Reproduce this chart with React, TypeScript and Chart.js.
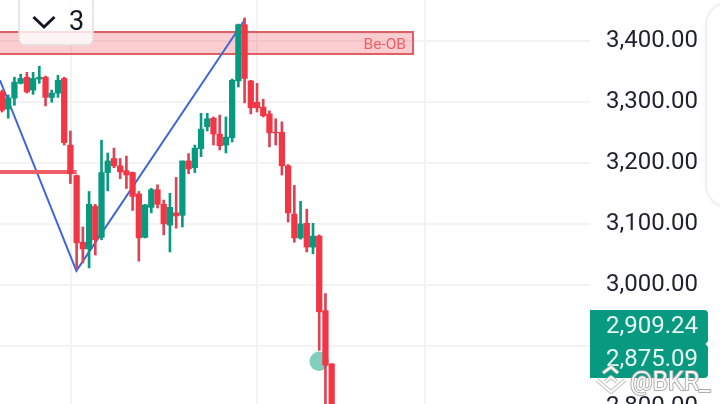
import { useEffect, useRef } from 'react';
import { Chart, registerables } from 'chart.js';

Chart.register(...registerables);

const opens = [3316, 3288, 3306, 3330, 3340, 3319, 3337, 3340, 3307, 3314, 3338, 3229, 3179, 3070, 3059, 3129, 3078, 3184, 3207, 3195, 3187, 3184, 3149, 3078, 3127, 3156, 3132, 3098, 3118, 3114, 3203, 3192, 3223, 3259, 3273, 3247, 3229, 3241, 3334, 3426, 3334, 3299, 3291, 3280, 3250, 3250, 3195, 3116, 3077, 3101, 3062, 3080, 2958, 2871];
const highs = [3319, 3311, 3340, 3345, 3348, 3348, 3358, 3342, 3319, 3343, 3340, 3252, 3180, 3095, 3153, 3132, 3237, 3216, 3224, 3207, 3211, 3185, 3153, 3132, 3158, 3164, 3139, 3150, 3176, 3203, 3215, 3229, 3281, 3281, 3275, 3278, 3275, 3337, 3427, 3437, 3335, 3330, 3304, 3285, 3272, 3267, 3197, 3163, 3137, 3124, 3101, 3082, 2986, 2871];
const lows = [3283, 3273, 3294, 3329, 3314, 3312, 3330, 3293, 3299, 3307, 3229, 3166, 3026, 3036, 3028, 3049, 3074, 3154, 3192, 3174, 3158, 3122, 3039, 3077, 3118, 3126, 3082, 3054, 3093, 3095, 3182, 3184, 3210, 3252, 3229, 3221, 3216, 3234, 3324, 3298, 3280, 3283, 3275, 3226, 3229, 3180, 3103, 3070, 3075, 3054, 3051, 2893, 2796, 2779];
const closes = [3286, 3306, 3332, 3338, 3316, 3338, 3340, 3307, 3314, 3335, 3233, 3182, 3069, 3059, 3132, 3074, 3184, 3203, 3195, 3185, 3180, 3145, 3077, 3131, 3156, 3132, 3100, 3127, 3113, 3203, 3190, 3224, 3255, 3272, 3247, 3228, 3242, 3335, 3426, 3338, 3290, 3290, 3277, 3249, 3249, 3195, 3118, 3077, 3100, 3062, 3080, 2956, 2869, 2779];

const priceTicks = [3400, 3300, 3200, 3100, 3000, 2900, 2800];
const timeGrid = [11.09, 41, 68];
const zigzagX = [-0.32, 11.96, 39.07];
const zigzagY = [3335, 3023, 3435];
const levelX = [-0.32, 12];
const levelY = [3185, 3185];
const lastPrice = 2875.09;
const lastPriceX = 51;
const priceLabels = ['2,909.24', '2,875.09'];
const obTop = 3414;
const obBottom = 3378;
const obRight = 66.08;

const RED = '#f23645';
const GREEN = '#089981';
const FONT = 'Roboto';

const overlays = {
  id: 'overlays',
  beforeDatasetsDraw(chart: any) {
    const { ctx, scales } = chart;
    const x0 = scales.x.getPixelForValue(scales.x.min);
    const x1 = scales.x.getPixelForValue(obRight);
    const y0 = scales.y.getPixelForValue(obTop);
    const y1 = scales.y.getPixelForValue(obBottom);
    ctx.save();
    ctx.fillStyle = 'rgba(242,54,69,0.25)';
    ctx.fillRect(x0 - 2, y0, x1 - x0 + 2, y1 - y0);
    ctx.strokeStyle = '#df5f63';
    ctx.lineWidth = 2;
    ctx.strokeRect(x0 - 2, y0, x1 - x0 + 2, y1 - y0);
    ctx.restore();
  },
  afterDraw(chart: any) {
    const { ctx } = chart;
    ctx.save();

    ctx.fillStyle = '#ec6068';
    ctx.font = `15.5px ${FONT}`;
    ctx.textAlign = 'right';
    ctx.fillText('Be-OB', 406, 49);

    // collapse button
    ctx.beginPath();
    ctx.roundRect(19, -10, 74, 55, 6);
    ctx.fillStyle = 'rgba(255,255,255,0.8)';
    ctx.fill();
    ctx.strokeStyle = '#e0e0e0';
    ctx.lineWidth = 1.5;
    ctx.stroke();
    ctx.beginPath();
    ctx.moveTo(33.5, 17);
    ctx.lineTo(44, 27);
    ctx.lineTo(54.5, 17);
    ctx.strokeStyle = '#131722';
    ctx.lineWidth = 3;
    ctx.stroke();
    ctx.fillStyle = '#131722';
    ctx.font = `27px ${FONT}`;
    ctx.textAlign = 'left';
    ctx.fillText('3', 69, 29.5);

    // side panel edge
    ctx.save();
    ctx.beginPath();
    ctx.roundRect(707, 3, 60, 204, 22);
    ctx.shadowColor = 'rgba(0,0,0,0.18)';
    ctx.shadowBlur = 4;
    ctx.fillStyle = '#ffffff';
    ctx.fill();
    ctx.restore();

    // price labels
    ctx.beginPath();
    ctx.roundRect(590, 310, 118, 68, [0, 4, 4, 0]);
    ctx.fillStyle = GREEN;
    ctx.fill();
    ctx.beginPath();
    ctx.moveTo(708.5, 340.5);
    ctx.lineTo(705.5, 344);
    ctx.lineTo(708.5, 347.5);
    ctx.fillStyle = '#ffffff';
    ctx.fill();
    ctx.fillStyle = '#e9f8f4';
    ctx.font = `24px ${FONT}`;
    ctx.fillText(priceLabels[0], 606, 333);
    ctx.fillText(priceLabels[1], 606, 366);

    // watermark
    ctx.lineJoin = 'round';
    const glyph = () => {
      ctx.beginPath();
      ctx.moveTo(597, 380);
      ctx.lineTo(611, 392);
      ctx.lineTo(625, 380);
      ctx.moveTo(603, 373);
      ctx.lineTo(611, 367);
      ctx.lineTo(618, 373);
      ctx.moveTo(605, 382);
      ctx.lineTo(611, 377);
      ctx.lineTo(617, 382);
      ctx.stroke();
    };
    ctx.strokeStyle = 'rgba(190,190,190,0.95)';
    ctx.lineWidth = 4;
    glyph();
    ctx.strokeStyle = '#ffffff';
    ctx.lineWidth = 2;
    glyph();
    ctx.font = `25px ${FONT}`;
    ctx.lineWidth = 2;
    ctx.strokeStyle = 'rgba(165,165,165,0.9)';
    ctx.strokeText('@BKR_', 630, 389.5);
    ctx.fillStyle = 'rgba(255,255,255,0.92)';
    ctx.fillText('@BKR_', 630, 389.5);

    ctx.restore();
  },
};

export default function App() {
  const chartRef = useRef<HTMLCanvasElement>(null);

  useEffect(() => {
    if (!chartRef.current) return;

    const wicks = lows.map((low, i) => ({ x: i, y: [low, highs[i]] }));
    const bodies = opens.map((open, i) => ({ x: i, y: [open, closes[i]] }));
    const colors = opens.map((open, i) => (closes[i] >= open ? GREEN : RED));
    const wickColors = opens.map((open, i) => (closes[i] >= open ? GREEN : '#dc4456'));

    const chart = new Chart(chartRef.current, {
      type: 'bar',
      data: {
        datasets: [
          {
            type: 'line',
            data: [{ x: lastPriceX, y: lastPrice }],
            showLine: false,
            pointRadius: 9.7,
            pointBackgroundColor: '#80cfbe',
            pointBorderWidth: 0,
            order: 5,
            clip: false,
          },
          {
            type: 'line',
            data: zigzagX.map((x, i) => ({ x, y: zigzagY[i] })),
            borderColor: '#3f66d9',
            borderWidth: 2,
            pointRadius: 0,
            order: 4,
          },
          {
            type: 'line',
            data: levelX.map((x, i) => ({ x, y: levelY[i] })),
            borderColor: '#ef5f69',
            borderWidth: 4,
            pointRadius: 0,
            order: 3,
          },
          {
            data: wicks,
            backgroundColor: wickColors,
            barThickness: 2,
            grouped: false,
            order: 2,
          },
          {
            data: bodies,
            backgroundColor: colors,
            barThickness: 5.6,
            grouped: false,
            order: 1,
          },
        ],
      } as any,
      options: {
        responsive: false,
        animation: false,
        layout: { padding: 0, autoPadding: false },
        plugins: { legend: { display: false }, tooltip: { enabled: false } },
        scales: {
          x: {
            type: 'linear',
            offset: false,
            min: -0.32,
            max: 94.53,
            border: { display: false },
            grid: { color: '#f3f3f3', lineWidth: 2, drawTicks: false, offset: false },
            ticks: { display: false },
            afterBuildTicks: (s: any) => {
              s.ticks = timeGrid.map((value) => ({ value }));
            },
            afterFit: (s: any) => {
              s.height = 0;
              s.paddingLeft = 0;
              s.paddingRight = 0;
            },
          },
          y: {
            position: 'right',
            min: 2746.3,
            max: 3466.4,
            border: { display: false },
            grid: { color: '#f3f3f3', lineWidth: 2, drawTicks: false },
            ticks: {
              padding: 16,
              crossAlign: 'near',
              autoSkip: false,
              color: '#1e222d',
              font: { family: FONT, size: 24 },
              callback: (v: any) => Number(v).toLocaleString('en-US', { minimumFractionDigits: 2 }),
            },
            afterBuildTicks: (s: any) => {
              s.ticks = priceTicks.map((value) => ({ value }));
            },
            afterFit: (s: any) => {
              s.width = 130;
              s.paddingTop = 0;
              s.paddingBottom = 0;
            },
          },
        },
      },
      plugins: [overlays],
    } as any);

    return () => chart.destroy();
  }, []);

  return (
    <div style={{ position: 'absolute', left: 0, top: 0, width: 720, height: 404, overflow: 'hidden', background: '#fff' }}>
      <canvas ref={chartRef} width={720} height={440} style={{ display: 'block' }} />
    </div>
  );
}
